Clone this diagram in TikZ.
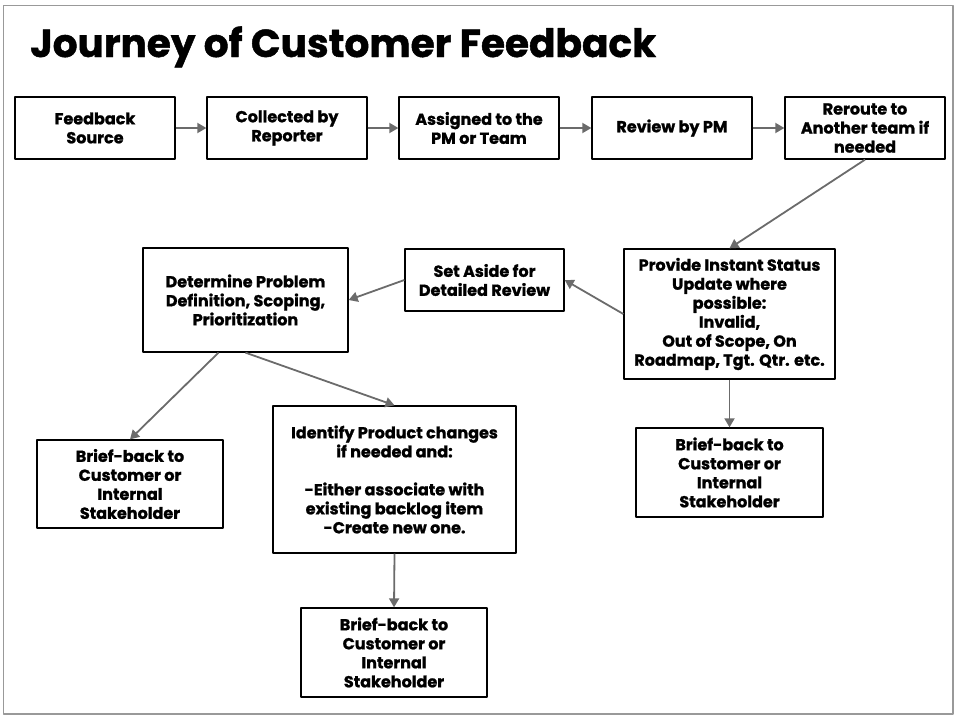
\documentclass[tikz,border=0pt]{standalone}
\usepackage{fontspec}
\setmainfont{Poppins}[BoldFeatures={FakeBold=1.2}]
\usetikzlibrary{arrows.meta,calc}

\tikzset{
  stage/.style={draw=black,line width=1.3pt,fill=white,align=center,
    font=\bfseries\fontsize{16}{19}\selectfont,inner sep=2pt},
  flow/.style={draw=black!58,line width=1.8pt,
    -{Triangle[length=9pt,width=10pt]}},
}

\begin{document}
\begin{tikzpicture}[x=1pt,y=-1pt,line join=round]
  \useasboundingbox (0,0) rectangle (960,720);
  \draw[black!40,line width=1.4pt] (3.5,5.5) rectangle (953,714);
  \node[anchor=base west,inner sep=0pt,font=\bfseries\fontsize{39}{44}\selectfont] (title) at (30,57) {Journey of Customer Feedback};
  % top row
  \node[stage,minimum width=160pt,minimum height=62pt] (source) at (95,128) {Feedback\\Source};
  \node[stage,minimum width=160pt,minimum height=62pt] (collect) at (287,128) {Collected by\\Reporter};
  \node[stage,minimum width=160pt,minimum height=62pt] (assign) at (479,128) {Assigned to the\\PM or Team};
  \node[stage,minimum width=160pt,minimum height=62pt] (review) at (672,128) {Review by PM};
  \node[stage,minimum width=160pt,minimum height=62pt] (reroute) at (865,128) {Reroute to\\Another team if\\needed};
  % middle row
  \node[stage,minimum width=211pt,minimum height=130pt] (status) at (729.5,314) {Provide Instant Status\\Update where\\possible:\\Invalid,\\Out of Scope, On\\Roadmap, Tgt. Qtr. etc.};
  \node[stage,minimum width=159pt,minimum height=62pt] (aside) at (484.5,280) {Set Aside for\\Detailed Review};
  \node[stage,minimum width=205pt,minimum height=104pt] (define) at (245.5,300) {Determine Problem\\Definition, Scoping,\\Prioritization};
  % lower rows
  \node[stage,minimum width=243pt,minimum height=147pt] (changes) at (394.5,479.5) {Identify Product changes\\if needed and:\\[19pt]-Either associate with\\existing backlog item\\-Create new one.};
  \node[stage,minimum width=186pt,minimum height=88pt] (briefL) at (130,484) {Brief-back to\\Customer or\\Internal\\Stakeholder};
  \node[stage,minimum width=187pt,minimum height=89pt] (briefR) at (729.5,472.5) {Brief-back to\\Customer or\\Internal\\Stakeholder};
  \node[stage,minimum width=186pt,minimum height=89pt] (briefB) at (394,652.5) {Brief-back to\\Customer or\\Internal\\Stakeholder};
  % connectors
  \draw[flow] (source) -- (collect);
  \draw[flow] (collect) -- (assign);
  \draw[flow] (assign) -- (review);
  \draw[flow] (review) -- (reroute);
  \draw[flow] (reroute.south) -- (status.north);
  \draw[flow] (status.west) -- (aside.east);
  \draw[flow] (aside.west) -- (define.east);
  \draw[flow] ($(define.south)+(-27,0)$) -- (briefL.north);
  \draw[flow] (define.south) -- (changes.north);
  \draw[flow] (status.south) -- (briefR.north);
  \draw[flow] (changes.south) -- (briefB.north);
\end{tikzpicture}
\end{document}
